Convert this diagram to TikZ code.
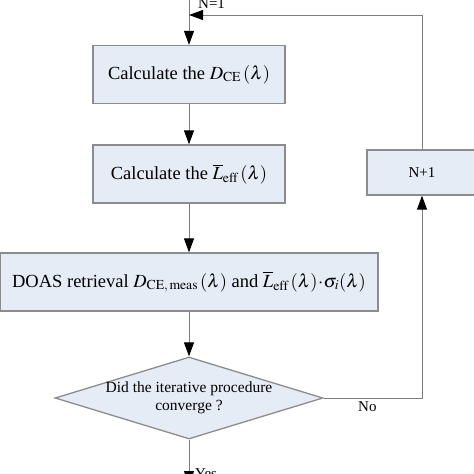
\documentclass[tikz,border=0pt]{standalone}
\usepackage{mathptmx}
\usepackage{fontspec}
\setmainfont{Liberation Serif}
\usetikzlibrary{arrows.meta,shapes.geometric}
\definecolor{boxfill}{RGB}{230,236,246}
\definecolor{boxline}{RGB}{140,140,140}
\definecolor{flowline}{RGB}{125,125,125}

\begin{document}
\begin{tikzpicture}[x=1pt,y=-1pt,
    stepbox/.style={draw=boxline,fill=boxfill,line width=1.3pt,minimum height=58pt,
      inner sep=0pt,font=\fontsize{18.5}{22}\selectfont},
    decision/.style={diamond,draw=boxline,fill=boxfill,line width=1.3pt,
      minimum width=268pt,minimum height=82pt,inner sep=0pt},
    flow/.style={draw=flowline,line width=.9pt,-{Triangle[length=14pt,width=10pt,color=black]}},
    lbl/.style={font=\fontsize{15}{18}\selectfont,inner sep=0pt}]
    \clip (0,0) rectangle (474,474);
    \useasboundingbox (0,0) rectangle (474,474);
    % main column
    \coordinate (start) at (189,0);
    \node[stepbox,minimum width=192pt] (dce) at (189,74.5) {Calculate the $D_{\mathrm{CE}}\,(\lambda)$};
    \node[stepbox,minimum width=192pt] (leff) at (189,174) {Calculate the $\overline{L}_{\mathrm{eff}}\,(\lambda)$};
    \node[stepbox,minimum width=378pt] (doas) at (189,282)
      {DOAS retrieval $D_{\mathrm{CE,\,meas}}\,(\lambda)$ and $\overline{L}_{\mathrm{eff}}\,(\lambda)\!\cdot\!\sigma_i(\lambda)$};
    \node[decision] (conv) at (189,398) {};
    \node[font=\fontsize{15.5}{18.5}\selectfont,align=center] (convtxt) at (conv) {Did the iterative procedure\\converge ?};
    \coordinate (out) at (189,485);
    % loop branch
    \node[stepbox,minimum width=110pt,minimum height=45pt,font=\fontsize{15}{18}\selectfont] (next) at (422,172.5) {N+1};
    \coordinate (joint) at (189,15);
    \coordinate (turn) at (422,398);
    \coordinate (back) at (422,15);

    \draw[flow] (start) -- (dce);
    \draw[flow] (dce) -- (leff);
    \draw[flow] (leff) -- (doas);
    \draw[flow] (doas) -- (conv);
    \draw[flow] (conv) -- (out);
    \draw[flow] (conv.east) -- (turn) -- (next);
    \draw[flow] (next) -- (back) -- (joint);

    \node[lbl,anchor=base west] (n1) at (198,8.5) {N=1};
    \node[lbl,anchor=base west] (no) at (358,411) {No};
    \node[lbl,anchor=base west] (yes) at (195,478) {Yes};
  \end{tikzpicture}
\end{document}
